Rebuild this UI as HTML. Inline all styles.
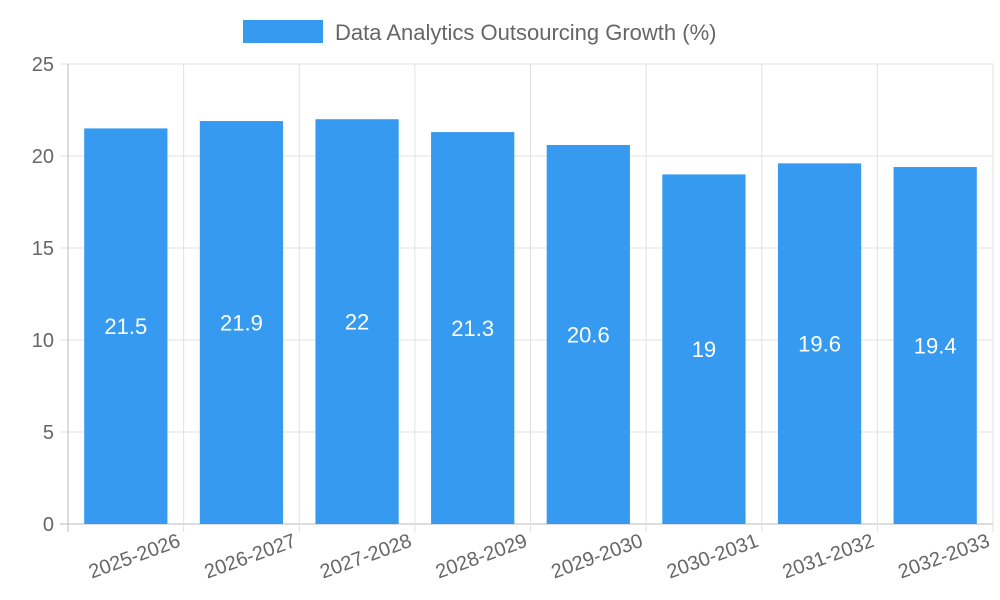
<!DOCTYPE html>
<html><head><meta charset="utf-8"><style>
html,body{margin:0;padding:0;background:#fff;width:1000px;height:600px;overflow:hidden}
svg{display:block;font-family:"Liberation Sans",sans-serif}
</style></head><body>
<svg id="chart" width="1000" height="600">
<g>
<rect x="243" y="20" width="80" height="23" fill="#369bf0"></rect>
<text x="335" y="40" font-size="22" fill="#666">Data Analytics Outsourcing Growth (%)</text>
</g>
<g id="grid"></g><g id="bars"></g><g id="axes"></g>
</svg>
<script>
const categories=["2025-2026","2026-2027","2027-2028","2028-2029","2029-2030","2030-2031","2031-2032","2032-2033"];
const values=[21.5,21.9,22,21.3,20.6,19,19.6,19.4];
const yTicks=[0,5,10,15,20,25];
const NS="http://www.w3.org/2000/svg";
const L=68,R=993,T=64,B=524,yMax=25;
const bw=(R-L)/categories.length;
const y=v=>B-(v/yMax)*(B-T);
const x=i=>L+i*bw;
function mk(t,a,p){const e=document.createElementNS(NS,t);for(const k in a)e.setAttribute(k,a[k]);p.appendChild(e);return e;}
const grid=document.getElementById('grid'),bars=document.getElementById('bars'),axes=document.getElementById('axes');
yTicks.forEach(t=>{
 const l=mk('line',{x1:L-8,x2:R,y1:y(t),y2:y(t),stroke:t===0?'#bbb':'#e0e0e0','stroke-width':1},grid);
 
 
 const tx=mk('text',{x:L-14,y:y(t)+7,'text-anchor':'end','font-size':20,fill:'#666'},axes);
 tx.textContent=t;
 
 
});
for(let i=0;i<=categories.length;i++){
 const l=mk('line',{x1:x(i),x2:x(i),y1:T,y2:B+8,stroke:i===0?'#bbb':'#e0e0e0','stroke-width':1},grid);
 
 
}
categories.forEach((c,i)=>{
 const cx=x(i)+bw/2,w=bw*0.72;
 const r=mk('rect',{x:cx-w/2,y:y(values[i]),width:w,height:B-y(values[i]),fill:'#369bf0'},bars);
 
 
 const v=mk('text',{x:cx,y:(y(values[i])+B)/2+8,'text-anchor':'middle','font-size':22,fill:'#fff'},bars);
 v.textContent=values[i];
 
 
 const t=mk('text',{x:x(i+1)-2,y:B+22,'text-anchor':'end','font-size':20,fill:'#666',transform:`rotate(-20 ${x(i+1)-2} ${B+22})`},axes);
 t.textContent=c;
 
 
});
</script>
</body></html>
